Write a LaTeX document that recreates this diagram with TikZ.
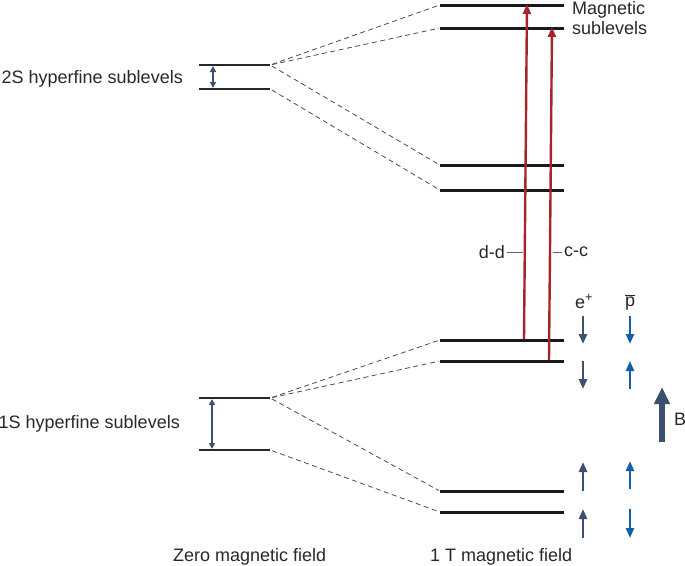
\documentclass[tikz,border=0pt]{standalone}
\usepackage{fontspec}
\setmainfont{Liberation Sans}
\usetikzlibrary{arrows.meta}
\definecolor{slate}{RGB}{60,80,112}
\definecolor{pblue}{RGB}{20,96,168}
\definecolor{laser}{RGB}{164,38,44}
\definecolor{ink}{RGB}{40,40,40}
\tikzstyle{txt} = [font=\fontsize{18}{21}\selectfont, text=ink, inner sep=0pt]
\tikzstyle{zerolevel} = [rectangle, fill=ink, minimum width=71pt, minimum height=1.5pt, inner sep=0pt]
\tikzstyle{fieldlevel} = [rectangle, fill=black!90, minimum width=124pt, minimum height=3pt, inner sep=0pt]
\tikzstyle{split} = [line width=0.8pt, draw=black!70, dash pattern=on 5pt off 3.5pt, shorten <=2pt, shorten >=1pt]
\tikzstyle{gaparrow} = [line width=1.6pt, slate, {Triangle[length=6pt,width=6pt]}-{Triangle[length=6pt,width=6pt]}]
\tikzstyle{laserarrow} = [line width=2.4pt, laser, -{Triangle[length=10pt,width=8pt]}]
\tikzstyle{tick} = [line width=0.8pt, draw=black!60, shorten <=2pt]
\tikzstyle{espin} = [line width=2.6pt, slate, -{Triangle[length=10pt,width=8pt]}]
\tikzstyle{pspin} = [line width=2.6pt, pblue, -{Triangle[length=10pt,width=8pt]}]
\tikzstyle{bfield} = [line width=5.5pt, slate, -{Triangle[length=17pt,width=15pt]}]

\begin{document}
\begin{tikzpicture}[x=1pt, y=-1pt]
            \useasboundingbox (0,0) rectangle (685,565);

            \node [zerolevel] at (234.5,65) (zero2Sa) {};
            \node [zerolevel] at (234.5,89) (zero2Sb) {};
            \node [zerolevel] at (234.5,398) (zero1Sa) {};
            \node [zerolevel] at (234.5,450) (zero1Sb) {};

            \node [fieldlevel] at (502,5) (high1) {};
            \node [fieldlevel] at (502,28) (high2) {};
            \node [fieldlevel] at (502,165) (high3) {};
            \node [fieldlevel] at (502,190) (high4) {};
            \node [fieldlevel] at (502,340) (low1) {};
            \node [fieldlevel] at (502,361) (low2) {};
            \node [fieldlevel] at (502,491) (low3) {};
            \node [fieldlevel] at (502,512) (low4) {};

            \node [txt, anchor=base east] at (183,83) (label2S) {2S hyperfine sublevels};
            \node [txt, anchor=base east] at (180,428) (label1S) {1S hyperfine sublevels};
            \node [txt, anchor=base west] at (572,14) (magnetic1) {Magnetic};
            \node [txt, anchor=base west] at (572,34) (magnetic2) {sublevels};
            \node [txt, anchor=base west] at (173,561) (zerofield) {Zero magnetic field};
            \node [txt, anchor=base west] at (430,561) (onefield) {1 T magnetic field};
            \node [txt, anchor=base] at (584,308) (positron) {e\textsuperscript{+}};
            \node [txt, anchor=base] at (630,306) (antiproton) {$\overline{\mbox{p}}$};
            \node [txt, anchor=west] at (674,419) (bname) {B};

            \draw [split] (zero2Sa.east) -- (high1.west);
            \draw [split] (zero2Sa.east) -- (high2.west);
            \draw [split] (zero2Sa.east) -- (high3.west);
            \draw [split] (zero2Sb.east) -- (high4.west);
            \draw [split] (zero1Sa.east) -- (low1.west);
            \draw [split] (zero1Sa.east) -- (low2.west);
            \draw [split] (zero1Sa.east) -- (low3.west);
            \draw [split] (zero1Sb.east) -- (low4.west);

            \coordinate (gap2Stop) at (213,66);
            \coordinate (gap2Sbot) at (213,88);
            \coordinate (gap1Stop) at (212,399);
            \coordinate (gap1Sbot) at (212,449);
            \draw [gaparrow] (gap2Stop) -- (gap2Sbot);
            \draw [gaparrow] (gap1Stop) -- (gap1Sbot);

            \coordinate (ddstart) at (524,339);
            \coordinate (ddend) at (527,4);
            \coordinate (ccstart) at (549,360);
            \coordinate (ccend) at (552,27);
            \draw [laserarrow] (ddstart) -- (ddend);
            \draw [laserarrow] (ccstart) -- (ccend);

            \node [txt, anchor=east] at (505,252) (ddname) {d-d};
            \node [txt, anchor=west] at (564,252) (ccname) {c-c};
            \coordinate (ddmark) at (523,252);
            \coordinate (ccmark) at (553,252);
            \draw [tick] (ddname.east) -- (ddmark);
            \draw [tick] (ccname.west) -- (ccmark);

            \draw [espin] (583,316) -- (583,344);
            \draw [pspin] (630,316) -- (630,344);
            \draw [espin] (583,361) -- (583,389);
            \draw [pspin] (630,389) -- (630,361);
            \draw [espin] (583,491) -- (583,462);
            \draw [pspin] (630,489) -- (630,461);
            \draw [espin] (583,538) -- (583,509);
            \draw [pspin] (630,509) -- (630,538);

            \draw [bfield] (662,442) -- (662,387);
            \end{tikzpicture}
\end{document}
